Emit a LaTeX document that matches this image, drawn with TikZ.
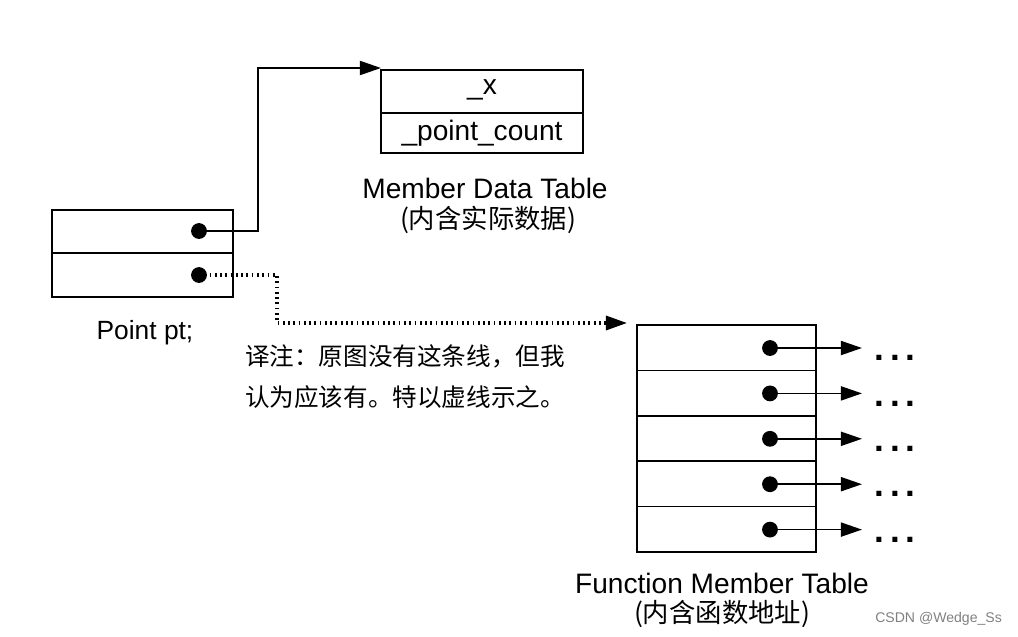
\documentclass[tikz,border=0pt]{standalone}
\usepackage{fontspec}
\setmainfont{Liberation Sans}
\newfontfamily\cjk{Noto Sans CJK SC}
\usetikzlibrary{arrows.meta}
\begin{document}
\begin{tikzpicture}[x=0.02cm,y=-0.02cm,
  box/.style={draw, line width=1pt},
  dot/.style={circle, fill=black, inner sep=0pt, minimum size=9pt},
  lbl/.style={font=\fontsize{16}{18}\selectfont, inner sep=1pt},
  arr/.style={line width=1pt, -{Triangle[length=12pt,width=8pt]}}]
\useasboundingbox (0,0) rectangle (1018,636);
% Point pt
\draw[box] (52,210) rectangle (233,297);
\draw[box] (52,253) -- (233,253);
\node[dot] (p1) at (199,231) {};
\node[dot] (p2) at (199,275) {};
\node[lbl, font=\fontsize{15}{17}\selectfont] (pl) at (145,333) {Point pt;};
% Member data table
\draw[box] (381,70) rectangle (583,153);
\draw[box] (381,113) -- (583,113);
\node[lbl] (mx) at (482,90) {\_x};
\node[lbl] (mc) at (482,133) {\_point\_count};
\node[lbl] (mt) at (485,188) {Member Data Table};
\node[lbl, font=\fontsize{15}{17}\selectfont\cjk] (mt2) at (488,220) {(内含实际数据)};
\coordinate (mdin) at (381,68);
\draw[arr] (p1.center) -- (258,231) -- (258,68) -- (mdin);
% dotted link
\coordinate (fmin) at (627,323);
\draw[arr, dotted, line width=1.8pt] (p2.center) -- (277,275) -- (277,323) -- (fmin);
\node[lbl, font=\fontsize{14}{23}\selectfont\cjk, align=left, anchor=north west] (note) at (243,343)
  {译注：原图没有这条线，但我\\认为应该有。特以虚线示之。};
% Function member table
\draw[box] (637,325) rectangle (816,552);
\foreach \i in {1,...,4} \draw[box] (637,{325+45.4*\i}) -- (816,{325+45.4*\i});
\foreach \i in {0,...,4} {
  \node[dot] (f\i) at (770,{348+45.4*\i}) {};
  \coordinate (fe\i) at (862,{348+45.4*\i});
  \draw[arr] (f\i.center) -- (fe\i);
  \node[font=\fontsize{20}{20}\selectfont\bfseries] (d\i) at (895,{358+45.4*\i}) {.\,.\,.};
}
\node[lbl] (ft) at (722,583) {Function Member Table};
\node[lbl, font=\fontsize{15}{17}\selectfont\cjk] (ft2) at (722,614) {(内含函数地址)};
\node[font=\fontsize{8}{9}\selectfont, text=gray, anchor=east] (csdn) at (1008,619) {CSDN @Wedge\_Ss};
\end{tikzpicture}
\end{document}
